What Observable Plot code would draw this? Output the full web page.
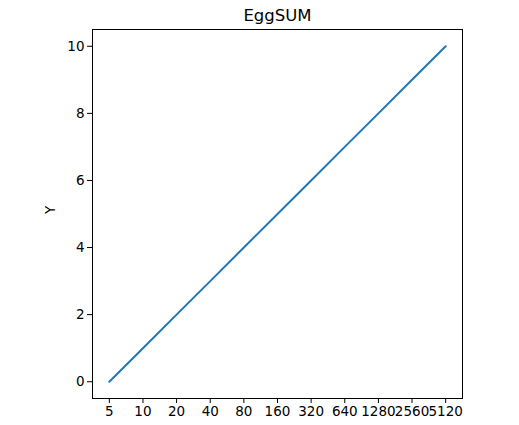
<!DOCTYPE html>
<html><head><meta charset="utf-8">
<script src="https://cdn.jsdelivr.net/npm/d3@7"></script>
<script src="https://cdn.jsdelivr.net/npm/@observablehq/plot@0.6"></script>
<style>body{margin:0;background:#fff}</style>
</head><body><div id="chart"></div>
<script>
const xValues = [5, 10, 20, 40, 80, 160, 320, 640, 1280, 2560, 5120];
const yValues = [0, 1, 2, 3, 4, 5, 6, 7, 8, 9, 10];
const yTicks = [0, 2, 4, 6, 8, 10];
const data = xValues.map((x, i) => ({x, y: yValues[i]}));
const font = "DejaVu Sans, sans-serif";
const chart = Plot.plot({
  width: 519, height: 425,
  marginLeft: 92, marginRight: 57, marginTop: 29, marginBottom: 27,
  style: {fontFamily: font, fontSize: "13.5px", color: "#000", background: "#fff"},
  x: {type: "log", base: 2, domain: [5 / Math.SQRT2, 5120 * Math.SQRT2]},
  y: {domain: [-0.5, 10.5]},
  marks: [
    Plot.frame({stroke: "#000", strokeWidth: 1}),
    Plot.axisX({ticks: xValues, tickFormat: d => String(d), tickSize: 5, tickPadding: 3, label: null, fontSize: 13.5}),
    Plot.axisY({ticks: yTicks, tickFormat: d => String(d), tickSize: 5, tickPadding: 3, label: null, fontSize: 13.5}),
    Plot.line(data, {x: "x", y: "y", stroke: "#1f77b4", strokeWidth: 2}),
    Plot.text(["EggSUM"], {frameAnchor: "top", lineAnchor: "bottom", dy: -9, fontSize: 16.5, fill: "#000"}),
    Plot.text(["Y"], {frameAnchor: "left", dx: -42, rotate: -90, fontSize: 13.5, fill: "#000"})
  ]
});
document.getElementById("chart").appendChild(chart);
</script>
</body></html>
